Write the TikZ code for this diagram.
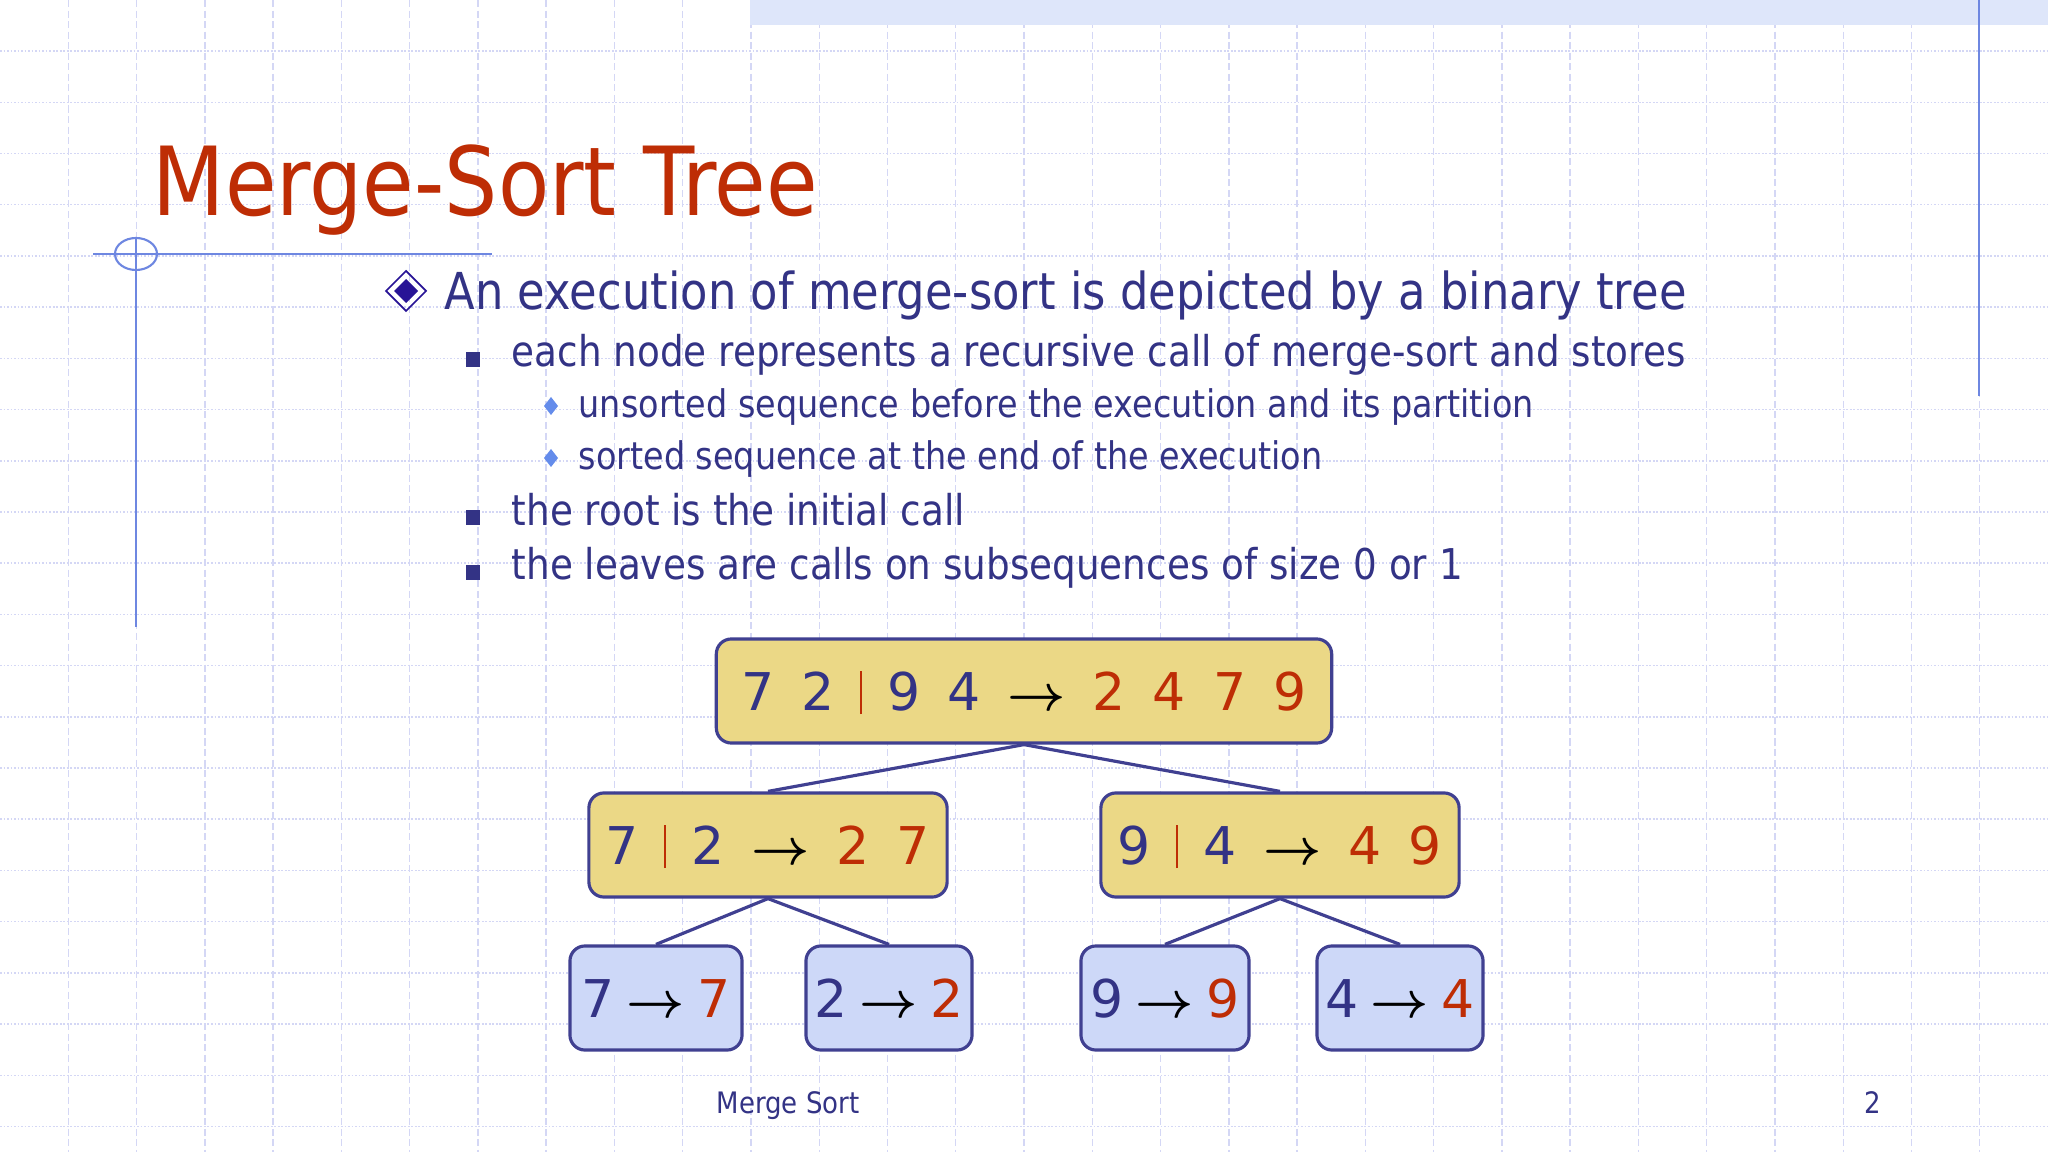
\documentclass[tikz,border=0pt]{standalone}
\usepackage{fontspec}
\setmainfont[FakeStretch=0.88]{DejaVu Sans}
\newfontfamily\digitfont{DejaVu Sans}
\definecolor{navy}{RGB}{51,51,133}
\definecolor{sorted}{RGB}{190,45,5}
\definecolor{edgeblue}{RGB}{64,64,145}
\definecolor{callfill}{RGB}{235,216,134}
\definecolor{leaffill}{RGB}{205,216,248}
\definecolor{gridline}{RGB}{212,215,245}
\definecolor{decoblue}{RGB}{110,135,225}
\definecolor{bandblue}{RGB}{222,230,250}
\definecolor{bulletone}{RGB}{40,20,150}
\definecolor{bulletthree}{RGB}{100,140,235}
\newcommand{\gap}{\hspace{0.27cm}}
\newcommand{\lgap}{\hspace{0.125cm}}
\newcommand{\cut}{\hspace{0.25cm}\textcolor{sorted}{\rule[-0.04cm]{0.7pt}{0.43cm}}\hspace{0.25cm}}
\newcommand{\arr}{{\color{black}\boldmath$\rightarrow$}}
\begin{document}
\begin{tikzpicture}[x=0.01cm,y=-0.01cm,
  gridv/.style={gridline,line width=0.4pt,dash pattern=on 2pt off 1pt},
  gridh/.style={gridline,line width=0.4pt,dash pattern=on 0.5pt off 0.5pt},
  deco/.style={decoblue,line width=0.6pt},
  callnode/.style={draw=edgeblue,line width=0.9pt,rounded corners=0.15cm,fill=callfill,
    minimum width=#1,minimum height=1.04cm,inner sep=0pt,text height=0.38cm,text depth=0pt,
    font={\digitfont\fontsize{14.8}{17}\selectfont}},
  leafnode/.style={callnode=#1,fill=leaffill},
  branch/.style={edgeblue,line width=0.9pt},
  titletext/.style={anchor=base west,inner sep=0pt,text=sorted,font=\fontsize{27.1}{31}\selectfont},
  leveltwo/.style={anchor=base west,inner sep=0pt,text=navy,font=\fontsize{12.06}{14}\selectfont},
  levelone/.style={leveltwo,font=\fontsize{14.48}{17}\selectfont},
  levelthree/.style={leveltwo,font=\fontsize{10.81}{13}\selectfont},
  foottext/.style={leveltwo,font=\fontsize{8.4}{10}\selectfont}]
\useasboundingbox (0,0) rectangle (2048,1152);
\fill[white] (0,0) rectangle (2048,1152);
\foreach \i in {1,...,29}
  \draw[gridv] (\i*68.267,0) -- (\i*68.267,1152);
\foreach \j in {1,...,22}
  \draw[gridh] (0,\j*51.2) -- (2048,\j*51.2);
\fill[bandblue] (750,0) rectangle (2048,25);
\draw[deco] (1979,0) -- (1979,396);
\draw[deco] (93,254) -- (492,254);
\draw[deco] (136,254) ellipse [x radius=21,y radius=16];
\draw[deco] (136,238) -- (136,627);

\node[titletext] (title) at (152,216) {Merge-Sort Tree};

\draw[bulletone,line width=0.5pt] (406,271) -- (426,291) -- (406,311) -- (386,291) -- cycle;
\fill[bulletone] (406,279) -- (418,291) -- (406,303) -- (394,291) -- cycle;
\node[levelone] (lead) at (444,310) {An execution of merge-sort is depicted by a binary tree};
\foreach \b in {367,525,580}
  \fill[navy] (466,\b-15) rectangle (480,\b);
\node[leveltwo] (each) at (511,367) {each node represents a recursive call of merge-sort and stores};
\foreach \b in {418,470}
  \fill[bulletthree] (551,\b-21) -- (558,\b-12) -- (551,\b-3) -- (544,\b-12) -- cycle;
\node[levelthree] (unsorted) at (578,418) {unsorted sequence before the execution and its partition};
\node[levelthree] (sortedseq) at (578,470) {sorted sequence at the end of the execution};
\node[leveltwo] (rootcall) at (511,525) {the root is the initial call};
\node[leveltwo] (leaves) at (511,580) {the leaves are calls on subsequences of size 0 or 1};

\node[callnode=6.15cm] (root) at (1024,691)
  {\color{navy}7\gap 2\cut 9\gap 4\gap\arr\gap\color{sorted}2\gap 4\gap 7\gap 9};
\node[callnode=3.58cm] (left) at (768,845)
  {\color{navy}7\cut 2\gap\arr\gap\color{sorted}2\gap 7};
\node[callnode=3.58cm] (right) at (1280,845)
  {\color{navy}9\cut 4\gap\arr\gap\color{sorted}4\gap 9};
\node[leafnode=1.72cm] (l7) at (656,998) {\color{navy}7\lgap\arr\lgap\color{sorted}7};
\node[leafnode=1.66cm] (l2) at (889,998) {\color{navy}2\lgap\arr\lgap\color{sorted}2};
\node[leafnode=1.68cm] (l9) at (1165,998) {\color{navy}9\lgap\arr\lgap\color{sorted}9};
\node[leafnode=1.66cm] (l4) at (1400,998) {\color{navy}4\lgap\arr\lgap\color{sorted}4};
\draw[branch] (root.south) -- (left.north);
\draw[branch] (root.south) -- (right.north);
\draw[branch] (left.south) -- (l7.north);
\draw[branch] (left.south) -- (l2.north);
\draw[branch] (right.south) -- (l9.north);
\draw[branch] (right.south) -- (l4.north);

\node[foottext] (foot) at (716,1113) {Merge Sort};
\node[foottext] (page) at (1864,1113) {2};
\end{tikzpicture}
\end{document}
